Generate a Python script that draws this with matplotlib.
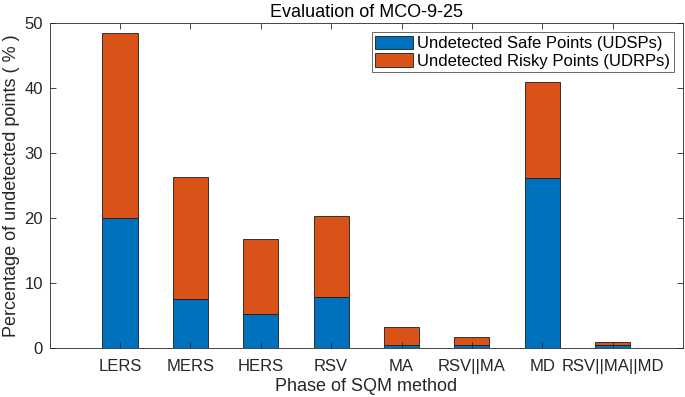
import matplotlib
matplotlib.use("Agg")
from matplotlib import pyplot as plt
import numpy as np

plt.rcParams["font.family"] = ["Liberation Sans", "DejaVu Sans"]

phases = ["LERS", "MERS", "HERS", "RSV", "MA", "RSV||MA", "MD", "RSV||MA||MD"]
udsp = [20.0, 7.5, 5.3, 7.9, 0.4, 0.4, 26.2, 0.4]
udrp = [28.4, 18.8, 11.5, 12.4, 2.8, 1.3, 14.8, 0.6]

x = np.arange(1, len(phases) + 1)
dark = "#262626"

fig = plt.figure(figsize=(6.85, 3.97), dpi=100)
ax = fig.add_axes([0.0726, 0.1234, 0.9244, 0.8186])

ax.bar(x, udsp, width=0.5, color="#0072BD", edgecolor="#1a1a1a", linewidth=0.6,
       label="Undetected Safe Points (UDSPs)")
ax.bar(x, udrp, width=0.5, bottom=udsp, color="#D95319", edgecolor="#1a1a1a", linewidth=0.6,
       label="Undetected Risky Points (UDRPs)")

ax.set_xlim(0, 9)
ax.set_ylim(0, 50)
ax.set_xticks(x)
ax.set_xticklabels(phases)
ax.set_yticks(np.arange(0, 51, 10))
ax.tick_params(direction="in", top=True, right=True, colors=dark, labelsize=12,
               length=4, width=0.6, pad=5)
ax.tick_params(axis="x", pad=8)
for s in ax.spines.values():
    s.set_color(dark)
    s.set_linewidth(0.6)

ax.set_title("Evaluation of MCO-9-25", fontsize=13, color="black", pad=4)
ax.set_xlabel("Phase of SQM method", fontsize=13, color=dark, labelpad=3)
ax.set_ylabel("Percentage of undetected points ( % )", fontsize=13, color=dark, labelpad=3)

leg = ax.legend(loc="upper right", fontsize=12, frameon=True, fancybox=False,
                borderaxespad=0.55, handlelength=2.3, handleheight=0.85, handletextpad=0.25,
                borderpad=0.2, labelspacing=0.15)
leg.get_frame().set_edgecolor(dark)
leg.get_frame().set_linewidth(0.6)
for h in leg.legend_handles:
    h.set_edgecolor("#1a1a1a")

fig.savefig("out.png", dpi=100)
